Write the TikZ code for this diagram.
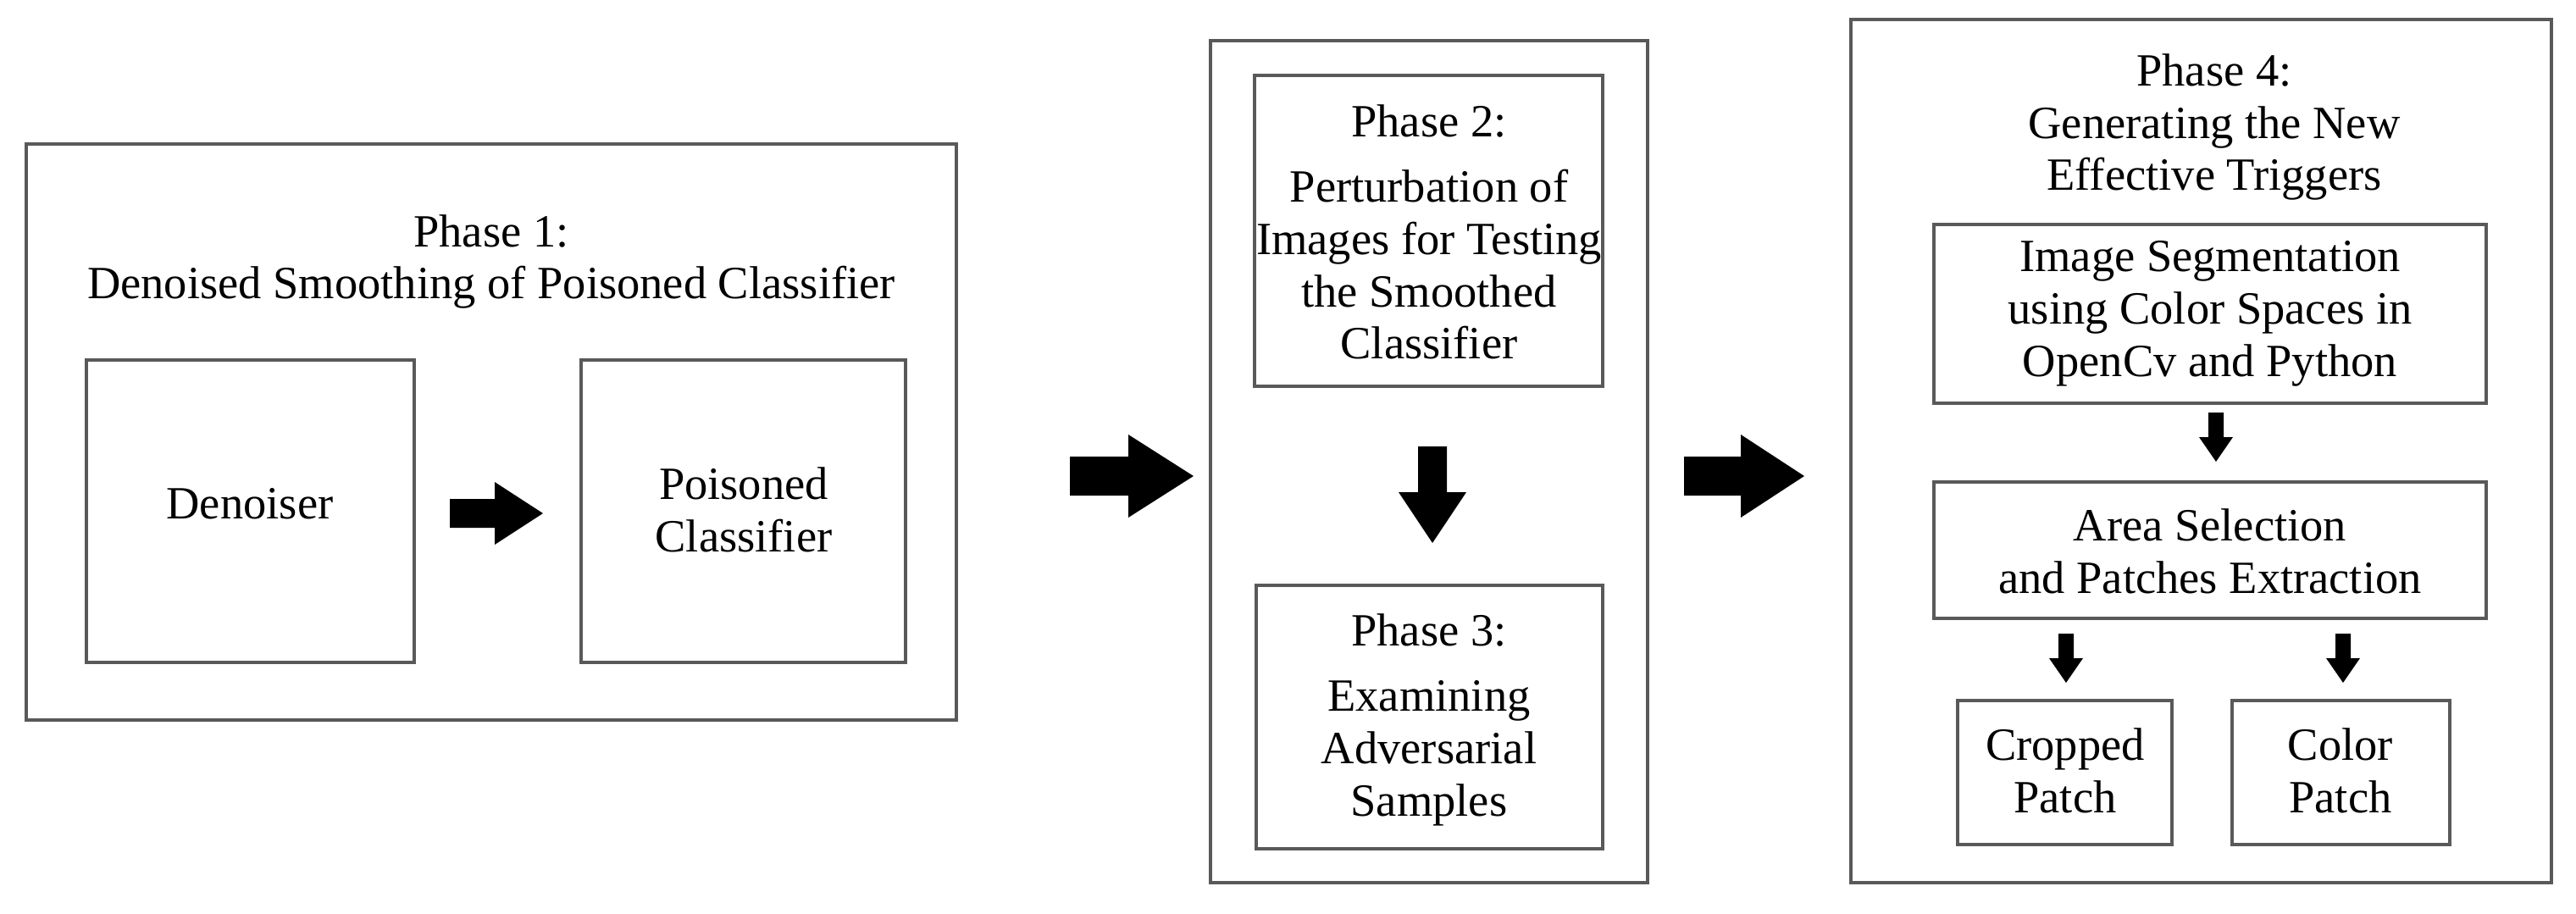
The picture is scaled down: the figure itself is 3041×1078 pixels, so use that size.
\documentclass[tikz,border=0pt]{standalone}
\usepackage{fontspec}
\setmainfont{Liberation Serif}
\begin{document}
\begin{tikzpicture}[x=0.01cm,y=-0.01cm,
  box/.style={draw=black!65,line width=0.9pt,inner sep=0pt},
  lbl/.style={align=center,inner sep=0pt,font=\fontsize{15.5}{17.6}\selectfont},
  blk/.style={fill=black,draw=none}]
\useasboundingbox (0,0) rectangle (3041,1078);
% phase 1
\draw[box] (31,170) rectangle (1129,850);
\node[lbl] (t1) at (580,309) {Phase 1:\\Denoised Smoothing of Poisoned Classifier};
\draw[box] (102,425) rectangle (489,782);
\node[lbl] (den) at (295,595) {Denoiser};
\draw[box] (686,425) rectangle (1069,782);
\node[lbl] (poi) at (878,602) {Poisoned\\Classifier};
\fill[blk] (531,589) -- (584,589) -- (584,569) -- (641,606) -- (584,643) -- (584,623) -- (531,623) -- cycle;
% arrow 1 -> 2
\fill[blk] (1263,539) -- (1332,539) -- (1332,513) -- (1409,562) -- (1332,611) -- (1332,585) -- (1263,585) -- cycle;
% phases 2 and 3
\draw[box] (1429,48) rectangle (1945,1042);
\draw[box] (1481,89) rectangle (1892,456);
\node[lbl] (t2) at (1687,274) {Phase 2:\\[0.6ex]Perturbation of\\Images for Testing\\the Smoothed\\Classifier};
\fill[blk] (1674,527) -- (1708,527) -- (1708,581) -- (1731,581) -- (1691,641) -- (1651,581) -- (1674,581) -- cycle;
\draw[box] (1483,691) rectangle (1892,1002);
\node[lbl] (t3) at (1687,850) {Phase 3:\\[0.6ex]Examining\\Adversarial\\Samples};
% arrow 2 -> 4
\fill[blk] (1988,539) -- (2055,539) -- (2055,513) -- (2130,562) -- (2055,611) -- (2055,585) -- (1988,585) -- cycle;
% phase 4
\draw[box] (2185,23) rectangle (3012,1042);
\node[lbl] (t4) at (2614,150) {Phase 4:\\Generating the New\\Effective Triggers};
\draw[box] (2283,265) rectangle (2935,476);
\node[lbl] (seg) at (2609,370) {Image Segmentation\\using Color Spaces in\\OpenCv and Python};
\fill[blk] (2607,487) -- (2625,487) -- (2625,516) -- (2636,516) -- (2616,545) -- (2596,516) -- (2607,516) -- cycle;
\draw[box] (2283,569) rectangle (2935,730);
\node[lbl] (area) at (2609,651) {Area Selection\\and Patches Extraction};
\foreach \cx in {2439,2766}
  \fill[blk] (\cx-9,748) -- (\cx+9,748) -- (\cx+9,777) -- (\cx+20,777) -- (\cx,806) -- (\cx-20,777) -- (\cx-9,777) -- cycle;
\draw[box] (2311,827) rectangle (2564,997);
\node[lbl] (crop) at (2438,910) {Cropped\\Patch};
\draw[box] (2635,827) rectangle (2892,997);
\node[lbl] (col) at (2763,910) {Color\\Patch};
\end{tikzpicture}
\end{document}
